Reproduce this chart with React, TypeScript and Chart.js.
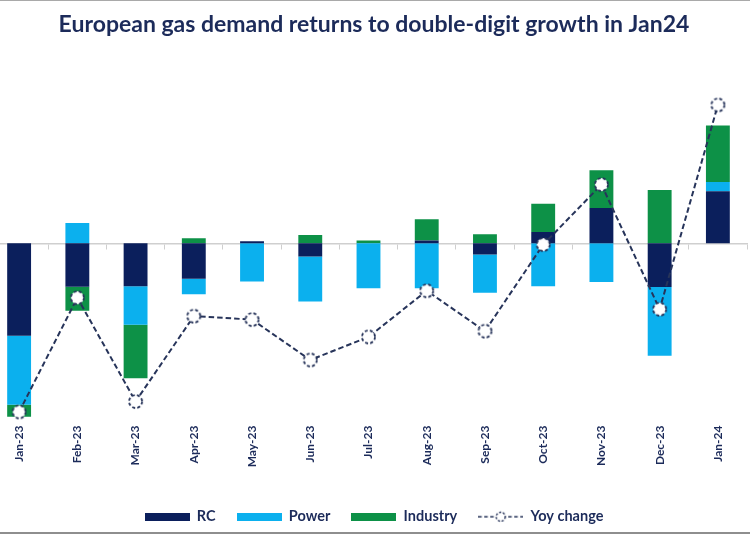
import React, { useEffect, useRef } from 'react';
import { Chart, registerables } from 'chart.js';

Chart.register(...registerables);

// Monthly change in European gas demand by sector, with the year-on-year change line
const months = ['Jan-23', 'Feb-23', 'Mar-23', 'Apr-23', 'May-23', 'Jun-23', 'Jul-23', 'Aug-23', 'Sep-23', 'Oct-23', 'Nov-23', 'Dec-23', 'Jan-24'];
const rc = [-2.30, -1.08, -1.07, -0.88, 0.05, -0.33, 0, 0.07, -0.28, 0.28, 0.88, -1.09, 1.30];
const power = [-1.72, 0.51, -0.96, -0.39, -0.95, -1.12, -1.12, -1.12, -0.95, -1.07, -0.96, -1.71, 0.23];
const industry = [-0.30, -0.60, -1.33, 0.13, 0, 0.21, 0.07, 0.53, 0.23, 0.71, 0.94, 1.33, 1.41];
const yoyChange = [-14.6, -4.7, -13.7, -6.3, -6.6, -10.1, -8.1, -4.1, -7.6, -0.1, 5.1, -5.7, 12.0];

const COLORS = {
  rc: '#0b1f5c',
  power: '#0bb0ee',
  industry: '#0d9147',
  line: '#27345a',
  text: '#1c2b5a',
  axis: '#cfcfcf',
};

const FONT = 'Lato, "Open Sans", "DejaVu Sans", sans-serif';

function swatch(color: string, w = 45, h = 8): HTMLCanvasElement {
  const c = document.createElement('canvas');
  c.width = w;
  c.height = h;
  const g = c.getContext('2d')!;
  g.fillStyle = color;
  g.fillRect(0, 0, w, h);
  return c;
}

function markerImage(size = 17, r = 6.5): HTMLCanvasElement {
  const c = document.createElement('canvas');
  c.width = size;
  c.height = size;
  const g = c.getContext('2d')!;
  g.beginPath();
  g.arc(size / 2, size / 2, r, 0, Math.PI * 2);
  g.fillStyle = '#ffffff';
  g.fill();
  g.setLineDash([3, 2.2]);
  g.lineWidth = 1.8;
  g.strokeStyle = COLORS.line;
  g.stroke();
  return c;
}

function lineLegendIcon(w = 45, h = 14): HTMLCanvasElement {
  const c = document.createElement('canvas');
  c.width = w;
  c.height = h;
  const g = c.getContext('2d')!;
  g.strokeStyle = COLORS.line;
  g.lineWidth = 1.6;
  g.setLineDash([3.5, 2.5]);
  g.beginPath();
  g.moveTo(0, h / 2);
  g.lineTo(w, h / 2);
  g.stroke();
  g.beginPath();
  g.arc(w / 2, h / 2, 4.5, 0, Math.PI * 2);
  g.fillStyle = '#ffffff';
  g.fill();
  g.setLineDash([2.2, 1.6]);
  g.lineWidth = 1.4;
  g.stroke();
  return c;
}

export default function App() {
  const canvasRef = useRef<HTMLCanvasElement | null>(null);

  useEffect(() => {
    const canvas = canvasRef.current;
    if (!canvas) return;
    const marker = markerImage();
    const legendIcons = [
      { text: 'RC', icon: swatch(COLORS.rc), idx: 1 },
      { text: 'Power', icon: swatch(COLORS.power), idx: 2 },
      { text: 'Industry', icon: swatch(COLORS.industry), idx: 3 },
      { text: 'Yoy change', icon: lineLegendIcon(), idx: 0 },
    ];

    const chart = new Chart(canvas, {
      type: 'bar',
      data: {
        labels: months,
        datasets: [
          {
            type: 'line',
            label: 'Yoy change',
            data: yoyChange,
            xAxisID: 'x',
            yAxisID: 'y1',
            order: 0,
            borderColor: COLORS.line,
            borderWidth: 2,
            borderDash: [5.5, 3],
            tension: 0,
            fill: false,
            pointStyle: marker,
            pointRadius: 7,
            clip: false,
          } as any,
          { label: 'RC', data: rc, backgroundColor: COLORS.rc, xAxisID: 'x', yAxisID: 'y', order: 1 },
          { label: 'Power', data: power, backgroundColor: COLORS.power, xAxisID: 'x', yAxisID: 'y', order: 1 },
          { label: 'Industry', data: industry, backgroundColor: COLORS.industry, xAxisID: 'x', yAxisID: 'y', order: 1 },
        ],
      },
      options: {
        responsive: false,
        animation: false,
        devicePixelRatio: 1,
        layout: { autoPadding: false, padding: { left: 0, right: 0, top: 0, bottom: 2 } },
        datasets: {
          bar: { barPercentage: 0.41, categoryPercentage: 1, borderWidth: 0 },
        },
        plugins: {
          tooltip: { enabled: false },
          title: {
            display: true,
            text: 'European gas demand returns to double-digit growth in Jan24',
            color: COLORS.text,
            font: { family: FONT, size: 23, weight: 'bold' },
            padding: { top: 11, bottom: 21.4 },
          },
          legend: {
            position: 'bottom',
            labels: {
              usePointStyle: true,
              pointStyleWidth: 45,
              boxHeight: 8,
              padding: 21,
              color: COLORS.text,
              font: { family: FONT, size: 14.5, weight: 'bold' },
              generateLabels: () =>
                legendIcons.map((item) => ({
                  text: item.text,
                  pointStyle: item.icon as any,
                  fillStyle: 'transparent',
                  strokeStyle: 'transparent',
                  lineWidth: 0,
                  hidden: false,
                  datasetIndex: item.idx,
                  fontColor: COLORS.text,
                })),
            },
          },
        },
        scales: {
          x: {
            type: 'category',
            stacked: true,
            offset: true,
            position: 'bottom',
            grid: { display: false, drawTicks: false, offset: true },
            border: { display: false },
            ticks: {
              autoSkip: false,
              minRotation: 90,
              maxRotation: 90,
              padding: 4,
              color: COLORS.text,
              font: { family: FONT, size: 12, weight: 'bold' },
            },
            afterFit: (scale: any) => {
              scale.height = 67;
              scale.paddingLeft = 0;
              scale.paddingRight = 0;
            },
          },
          zeroAxis: {
            type: 'category',
            axis: 'x',
            position: { y: 0 },
            offset: true,
            grid: {
              display: true,
              drawOnChartArea: false,
              drawTicks: true,
              tickLength: 5,
              offset: true,
              color: COLORS.axis,
              lineWidth: 1,
            },
            border: { display: true, color: COLORS.axis, width: 1.5 },
            ticks: { display: false },
            afterFit: (scale: any) => {
              scale.paddingLeft = 0;
              scale.paddingRight = 0;
            },
          } as any,
          y: {
            stacked: true,
            display: false,
            min: -4.44,
            max: 4.57,
          },
          y1: {
            position: 'right',
            display: true,
            min: -15.43,
            max: 15.9,
            grid: { display: false, drawTicks: false },
            border: { display: false },
            ticks: { display: false },
            afterFit: (scale: any) => {
              scale.width = 11;
            },
          },
        },
      },
    });

    return () => chart.destroy();
  }, []);

  return (
    <div
      style={{
        position: 'absolute',
        left: 0,
        top: 0,
        width: 750,
        height: 536,
        overflow: 'hidden',
        background: '#ffffff',
      }}
    >
      <canvas
        ref={canvasRef}
        width={768}
        height={536}
        style={{ position: 'absolute', left: -10, top: 0, width: 768, height: 536 }}
      />
      <div style={{ position: 'absolute', left: 0, top: 0, width: 750, height: 1, background: '#a9a9a9' }} />
      <div style={{ position: 'absolute', left: 0, top: 532, width: 750, height: 2, background: '#8e8e8e' }} />
    </div>
  );
}
